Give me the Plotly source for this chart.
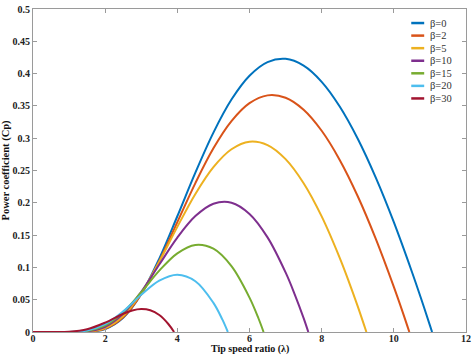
import plotly.graph_objects as go

# ---- data ----
beta_names = ["β=0", "β=2", "β=5", "β=10", "β=15", "β=20", "β=30"]
colors = ["#0072BD", "#D95319", "#EDB120", "#7E2F8E", "#77AC30", "#4DBEEE", "#A2142F"]

lam_b0 = [0, 0.5, 1, 1.5, 2, 2.5, 3, 3.5, 4, 4.5, 5, 5.5, 6, 6.5, 7, 7.5, 8, 8.5, 9, 9.5, 10, 10.5, 10.75, 11, 11.06]
cp_b0 = [0, 0, 0, 0.0003, 0.0046, 0.0220, 0.0588, 0.1137, 0.1792, 0.2467, 0.3087, 0.3598, 0.3967, 0.4178, 0.4228,
         0.4123, 0.3873, 0.3491, 0.2992, 0.2390, 0.1700, 0.0933, 0.0526, 0.0103, 0]

lam_b2 = [0, 0.5, 1, 1.5, 2, 2.5, 3, 3.5, 4, 4.5, 5, 5.5, 6, 6.5, 7, 7.5, 8, 8.5, 9, 9.5, 10, 10.25, 10.43]
cp_b2 = [0, 0, 0, 0.0004, 0.0051, 0.0227, 0.0584, 0.1100, 0.1701, 0.2305, 0.2843, 0.3264, 0.3542, 0.3663, 0.3627,
         0.3441, 0.3115, 0.2664, 0.2102, 0.1442, 0.0699, 0.0301, 0]

lam_b5 = [0, 0.5, 1, 1.5, 2, 2.5, 3, 3.5, 4, 4.5, 5, 5.5, 6, 6.5, 7, 7.5, 8, 8.5, 8.75, 9, 9.24]
cp_b5 = [0, 0, 0, 0.0006, 0.0061, 0.0248, 0.0603, 0.1089, 0.1627, 0.2137, 0.2552, 0.2829, 0.2946, 0.2894, 0.2676,
         0.2303, 0.1789, 0.1148, 0.0785, 0.0397, 0]

lam_b10 = [0, 0.5, 1, 1.5, 2, 2.5, 3, 3.5, 4, 4.5, 5, 5.5, 6, 6.5, 7, 7.25, 7.5, 7.63]
cp_b10 = [0, 0, 0, 0.0010, 0.0081, 0.0282, 0.0622, 0.1044, 0.1461, 0.1794, 0.1986, 0.2002, 0.1828, 0.1465, 0.0922,
          0.0588, 0.0215, 0]

lam_b15 = [0, 0.5, 1, 1.5, 2, 2.5, 3, 3.5, 4, 4.5, 5, 5.5, 6, 6.25, 6.39]
cp_b15 = [0, 0, 0, 0.0016, 0.0101, 0.0307, 0.0615, 0.0949, 0.1218, 0.1348, 0.1290, 0.1020, 0.0532, 0.0209, 0]

lam_b20 = [0, 0.5, 1, 1.5, 2, 2.5, 3, 3.5, 4, 4.5, 5, 5.25, 5.40]
cp_b20 = [0, 0, 0.0001, 0.0023, 0.0121, 0.0320, 0.0575, 0.0794, 0.0887, 0.0786, 0.0451, 0.0191, 0]

lam_b30 = [0, 0.5, 1, 1.5, 2, 2.5, 2.75, 3, 3.25, 3.5, 3.75, 3.91]
cp_b30 = [0, 0, 0.0004, 0.0042, 0.0145, 0.0282, 0.0334, 0.0356, 0.0337, 0.0262, 0.0124, 0]

x_tick_vals = [0, 2, 4, 6, 8, 10, 12]
y_tick_vals = [0, 0.05, 0.1, 0.15, 0.2, 0.25, 0.3, 0.35, 0.4, 0.45, 0.5]
y_tick_text = ["0", "0.05", "0.1", "0.15", "0.2", "0.25", "0.3", "0.35", "0.4", "0.45", "0.5"]

x_title = "Tip speed ratio (λ)"
y_title = "Power coefficient (Cp)"

series = [(lam_b0, cp_b0), (lam_b2, cp_b2), (lam_b5, cp_b5), (lam_b10, cp_b10),
          (lam_b15, cp_b15), (lam_b20, cp_b20), (lam_b30, cp_b30)]

# ---- figure ----
W, H = 474, 355
ML, MR, MT, MB = 33, 6, 3, 23
PW, PH = W - ML - MR, H - MT - MB

fig = go.Figure()
for (xs, ys), name, col in zip(series, beta_names, colors):
    fig.add_trace(go.Scatter(x=xs, y=ys, mode="lines", name=name,
                             line=dict(color=col, width=2, shape="spline", smoothing=1.0),
                             showlegend=False))

serif = "Liberation Serif, Times New Roman, serif"
axis_common = dict(showline=True, linecolor="#9a9a9a", linewidth=1, mirror="ticks",
                   ticks="inside", ticklen=4, tickcolor="#9a9a9a", showgrid=False, zeroline=False,
                   ticklabeloverflow="allow",
                   tickfont=dict(family=serif, size=10, color="#222222", weight="bold"))

fig.update_layout(
    width=W, height=H,
    margin=dict(l=ML, r=MR, t=MT, b=MB),
    paper_bgcolor="white", plot_bgcolor="white",
    xaxis=dict(range=[0, 12], tickvals=x_tick_vals, ticklabelstandoff=-3, **axis_common),
    yaxis=dict(range=[0, 0.5], tickvals=y_tick_vals, ticktext=y_tick_text, **axis_common),
)

# axis titles
fig.add_annotation(text=x_title, xref="paper", yref="paper", x=0.5, y=0, yshift=-17,
                   xanchor="center", yanchor="middle", showarrow=False,
                   font=dict(family=serif, size=10, color="#111111", weight="bold"))
fig.add_annotation(text=y_title, xref="paper", yref="paper", x=0, y=0.5, xshift=-28,
                   xanchor="center", yanchor="middle", textangle=-90, showarrow=False,
                   font=dict(family=serif, size=10.5, color="#111111", weight="bold"))

# manual legend (pixel layout converted to paper coordinates)
leg_x0, leg_x1, leg_tx = 413, 426, 430
leg_y0, leg_dy = 17.3, 12.8
for i, (name, col) in enumerate(zip(beta_names, colors)):
    ypix = leg_y0 + i * leg_dy
    yp = 1 - (ypix - MT) / PH
    fig.add_shape(type="line", xref="paper", yref="paper",
                  x0=(leg_x0 - ML) / PW, x1=(leg_x1 - ML) / PW, y0=yp, y1=yp,
                  line=dict(color=col, width=2.5))
    fig.add_annotation(text=name, xref="paper", yref="paper", x=(leg_tx - ML) / PW, y=yp,
                       xanchor="left", yanchor="middle", showarrow=False,
                       font=dict(family=serif, size=10.5, color="#333333"))

fig.write_html("out.html", config={"displayModeBar": False},
               post_script="document.body.style.margin='0px';document.body.style.overflow='hidden';")
